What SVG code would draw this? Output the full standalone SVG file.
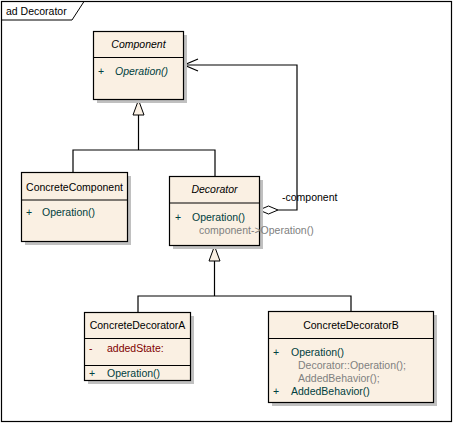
<svg xmlns="http://www.w3.org/2000/svg" width="453" height="423" viewBox="0 0 453 423">
<style>
text{font-family:"Liberation Sans",Arial,sans-serif;font-size:10.5px;fill:#000}
.box{fill:#faf0e3;stroke:#000;stroke-width:1.2}
.shadow{fill:#c0c0c0}
.div{stroke:#000;stroke-width:1}
.op{fill:#004040}
.attr{fill:#800000}
.code{fill:#808080}
.it{font-style:italic}
.c{text-anchor:middle}
.ln{fill:none;stroke:#000;stroke-width:1.2}
.tri{fill:#faf0e3;stroke:#000;stroke-width:1}
</style>
<g id="frame">
<rect x="1.5" y="1.5" width="450" height="420" fill="#fff" stroke="#000" stroke-width="1.2"/>
<path d="M1.5 20 H72 L84 1.5" fill="none" stroke="#000" stroke-width="1"/>
<text x="6" y="15">ad Decorator</text>
</g>
<g id="connectors">
<polyline class="ln" points="73,172 73,150 215,150 215,176"/>
<line class="ln" x1="138.5" y1="150" x2="138.5" y2="115"/>
<polygon class="tri" points="138.5,100 133,115 144,115"/>
<polyline class="ln" points="138,312 138,296 351,296 351,311"/>
<line class="ln" x1="214.5" y1="296" x2="214.5" y2="261"/>
<polygon class="tri" points="214.5,246 209,261 220,261"/>
<polyline class="ln" points="278,210 297,210 297,65 184,65"/>
<polyline class="ln" points="198,59 184,65 198,71"/>
<polygon points="259,210 268.5,206 278,210 268.5,214" fill="#fff" stroke="#000" stroke-width="1"/>
<text x="282" y="201">-component</text>
</g>
<g id="Component">
<rect class="shadow" x="97" y="35" width="90" height="68"/>
<rect class="box" x="93.5" y="31.5" width="90" height="68"/>
<line class="div" x1="93.5" y1="57.5" x2="183.5" y2="57.5"/>
<text class="it c" x="138.5" y="48">Component</text>
<text class="op" x="98" y="75">+</text>
<text class="op it" x="115" y="75">Operation()</text>
</g>
<g id="ConcreteComponent">
<rect class="shadow" x="25" y="176" width="106" height="69"/>
<rect class="box" x="21.5" y="172.5" width="106" height="69"/>
<line class="div" x1="21.5" y1="200" x2="127.5" y2="200"/>
<text class="c" x="74.5" y="191">ConcreteComponent</text>
<text class="op" x="26" y="216">+</text>
<text class="op" x="42" y="216">Operation()</text>
</g>
<g id="Decorator">
<rect class="shadow" x="173" y="180" width="90" height="69"/>
<rect class="box" x="169.5" y="176.5" width="90" height="69"/>
<line class="div" x1="169.5" y1="203" x2="259.5" y2="203"/>
<text class="it c" x="214.5" y="193">Decorator</text>
<text class="op" x="175" y="221">+</text>
<text class="op" x="192" y="221">Operation()</text>
<text class="code" x="199" y="234">component-&gt;Operation()</text>
</g>
<g id="ConcreteDecoratorA">
<rect class="shadow" x="88" y="316" width="106" height="68"/>
<rect class="box" x="84.5" y="312.5" width="106" height="68"/>
<line class="div" x1="84.5" y1="338.5" x2="190.5" y2="338.5"/>
<line class="div" x1="84.5" y1="365.5" x2="190.5" y2="365.5"/>
<text class="c" x="137.5" y="329">ConcreteDecoratorA</text>
<text class="attr" x="89" y="352">-</text>
<text class="attr" x="107" y="352">addedState:</text>
<text class="op" x="89" y="377">+</text>
<text class="op" x="107" y="377">Operation()</text>
</g>
<g id="ConcreteDecoratorB">
<rect class="shadow" x="272" y="315" width="165" height="91"/>
<rect class="box" x="268.5" y="311.5" width="165" height="91"/>
<line class="div" x1="268.5" y1="338.5" x2="433.5" y2="338.5"/>
<text class="c" x="351" y="329">ConcreteDecoratorB</text>
<text class="op" x="273" y="356">+</text>
<text class="op" x="291" y="356">Operation()</text>
<text class="code" x="298" y="369">Decorator::Operation();</text>
<text class="code" x="298" y="382">AddedBehavior();</text>
<text class="op" x="273" y="395">+</text>
<text class="op" x="291" y="395">AddedBehavior()</text>
</g>
</svg>
